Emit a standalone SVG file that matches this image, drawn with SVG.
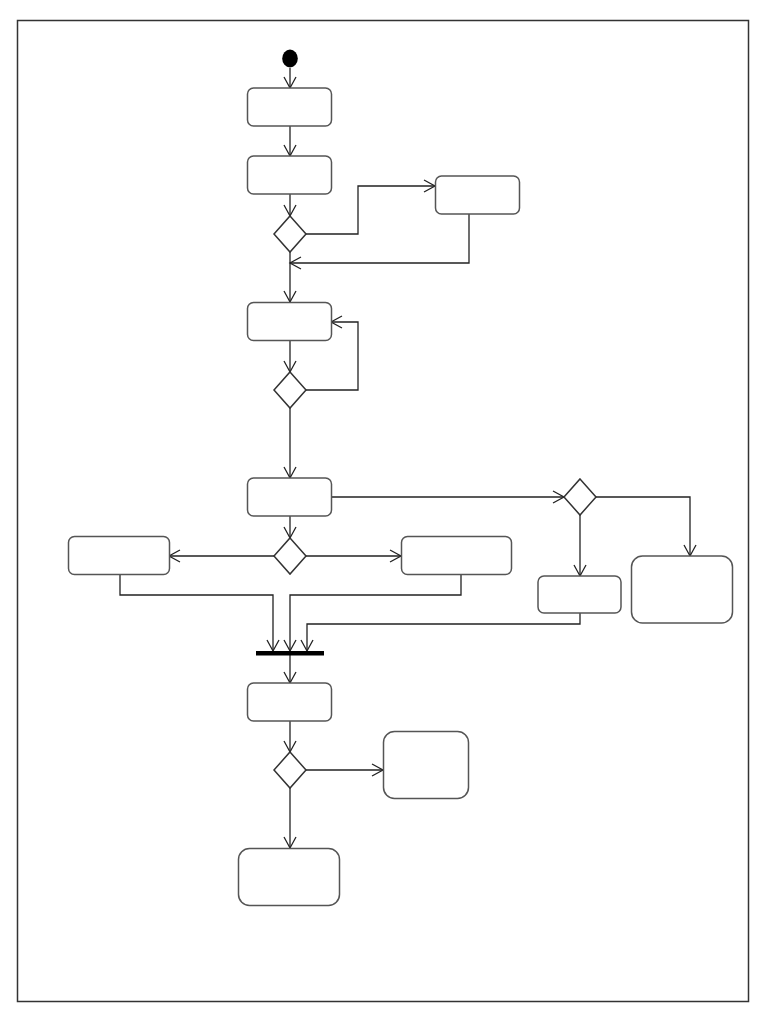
<svg xmlns="http://www.w3.org/2000/svg" width="768" height="1024" viewBox="0 0 768 1024">
<style>
.box{fill:#fff;stroke:#555;stroke-width:1.5}
.dia{fill:#fff;stroke:#333;stroke-width:1.5}
.ln{fill:none;stroke:#222;stroke-width:1.3}
.ar{fill:none;stroke:#222;stroke-width:1.3;marker-end:url(#arr)}
</style>
<defs>
<marker id="arr" viewBox="0 0 14 14" refX="12" refY="7" markerWidth="14" markerHeight="14" markerUnits="userSpaceOnUse" orient="auto">
<path d="M1,1 L12,7 L1,13" fill="none" stroke="#222" stroke-width="1.3"/>
</marker>
</defs>
<rect x="0" y="0" width="768" height="1024" fill="#fff"/>
<rect x="17.5" y="20.5" width="731" height="981" fill="none" stroke="#333" stroke-width="1.5"/>
<g id="connectors">
<path class="ar" d="M290,68 V88"/>
<path class="ar" d="M290,126 V156"/>
<path class="ar" d="M290,194 V216"/>
<path class="ar" d="M306,234 H358 V186 H435"/>
<path class="ar" d="M469,214 V263 H290"/>
<path class="ar" d="M290,252 V302"/>
<path class="ar" d="M290,340 V372"/>
<path class="ar" d="M306,390 H358 V322 H331"/>
<path class="ar" d="M290,408 V478"/>
<path class="ar" d="M290,516 V538"/>
<path class="ar" d="M274,556 H169"/>
<path class="ar" d="M306,556 H401"/>
<path class="ar" d="M331,497 H564"/>
<path class="ar" d="M596,497 H690 V556"/>
<path class="ar" d="M580,515 V576"/>
<path class="ar" d="M120,574 V595 H273 V651"/>
<path class="ar" d="M461,574 V595 H290 V651"/>
<path class="ar" d="M580,613 V624 H307 V651"/>
<path class="ar" d="M290,655 V683"/>
<path class="ar" d="M290,721 V752"/>
<path class="ar" d="M306,770 H383"/>
<path class="ar" d="M290,788 V848"/>
</g>
<g id="start"><ellipse cx="290" cy="58.5" rx="7.8" ry="9" fill="#000"/></g>
<g id="box1"><rect class="box" x="247.5" y="88" width="84" height="38" rx="6"/></g>
<g id="box2"><rect class="box" x="247.5" y="156" width="84" height="38" rx="6"/></g>
<g id="dec1"><path class="dia" d="M290,216 L306,234 L290,252 L274,234 Z"/></g>
<g id="box_r1"><rect class="box" x="435.5" y="176" width="84" height="38" rx="6"/></g>
<g id="box3"><rect class="box" x="247.5" y="302.5" width="84" height="38" rx="6"/></g>
<g id="dec2"><path class="dia" d="M290,372 L306,390 L290,408 L274,390 Z"/></g>
<g id="box4"><rect class="box" x="247.5" y="478" width="84" height="38" rx="6"/></g>
<g id="dec3"><path class="dia" d="M290,538 L306,556 L290,574 L274,556 Z"/></g>
<g id="box_left"><rect class="box" x="68.5" y="536.5" width="101" height="38" rx="6"/></g>
<g id="box_mid"><rect class="box" x="401.5" y="536.5" width="110" height="38" rx="6"/></g>
<g id="dec4"><path class="dia" d="M580,479 L596,497 L580,515 L564,497 Z"/></g>
<g id="box_small"><rect class="box" x="538" y="576" width="83" height="37" rx="6"/></g>
<g id="box_big"><rect class="box" x="631.5" y="556" width="101" height="67" rx="11"/></g>
<g id="join"><rect x="256" y="651" width="68" height="4.5" fill="#000"/></g>
<g id="box5"><rect class="box" x="247.5" y="683" width="84" height="38" rx="6"/></g>
<g id="dec5"><path class="dia" d="M290,752 L306,770 L290,788 L274,770 Z"/></g>
<g id="box_r2"><rect class="box" x="383.5" y="731.5" width="85" height="67" rx="11"/></g>
<g id="box_end"><rect class="box" x="238.5" y="848.5" width="101" height="57" rx="11"/></g>
</svg>
